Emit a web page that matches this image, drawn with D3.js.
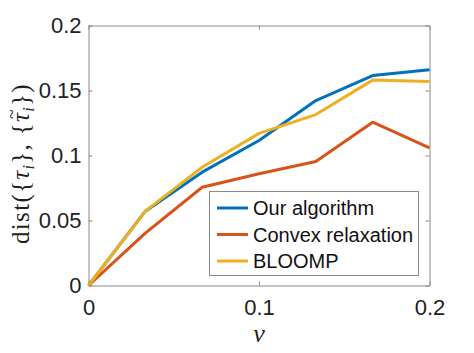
<!DOCTYPE html>
<html lang="en">
  <head>
    <meta charset="UTF-8" />
    <title>dist vs nu</title>
    <style>
      body { margin: 0; background: #fff; }
    </style>
  </head>
  <body>
    <div class="chart"></div>
    <script src="https://d3js.org/d3.v7.min.js"></script>
    <script>
      // data =====================================================
      const nu = [0, 1 / 30, 2 / 30, 3 / 30, 4 / 30, 5 / 30, 6 / 30];
      const ourAlgorithm = [0, 0.0572, 0.0872, 0.1115, 0.1423, 0.1615, 0.166];
      const convexRelaxation = [0, 0.0403, 0.0756, 0.0859, 0.0954, 0.1256, 0.1059];
      const bloomp = [0, 0.0572, 0.091, 0.117, 0.1315, 0.158, 0.157];
      const seriesNames = ["Our algorithm", "Convex relaxation", "BLOOMP"];
      const xTicks = [0, 0.1, 0.2];
      const yTicks = [0, 0.05, 0.1, 0.15, 0.2];

      const colors = ["#0072BD", "#D95319", "#EDB120"];
      const series = [ourAlgorithm, convexRelaxation, bloomp];

      const W = 474, H = 353;
      const mLeft = 88.5, mRight = 429.5, mTop = 25.5, mBottom = 285.5;

      const svg = d3.select(".chart").append("svg")
        .attr("width", W).attr("height", H);

      const x = d3.scaleLinear().domain([0, 0.2]).range([mLeft, mRight]);
      const y = d3.scaleLinear().domain([0, 0.2]).range([mBottom, mTop]);

      const axisColor = "#8a8a8a";
      const tickFont = "'Liberation Sans', Arial, sans-serif";
      const fmt = d => String(+d.toFixed(2));

      // axes (inside ticks, box on) ==============================
      const gx = svg.append("g").attr("transform", `translate(0,${mBottom})`)
        .call(d3.axisBottom(x).tickValues(xTicks).tickSizeInner(-4).tickSizeOuter(0).tickPadding(14).tickFormat(fmt));
      const gy = svg.append("g").attr("transform", `translate(${mLeft},0)`)
        .call(d3.axisLeft(y).tickValues(yTicks).tickSizeInner(-4).tickSizeOuter(0).tickPadding(7).tickFormat(fmt));
      const gxTop = svg.append("g").attr("transform", `translate(0,${mTop})`)
        .call(d3.axisTop(x).tickValues(xTicks).tickSizeInner(-4).tickSizeOuter(0).tickFormat(""));
      const gyRight = svg.append("g").attr("transform", `translate(${mRight},0)`)
        .call(d3.axisRight(y).tickValues(yTicks).tickSizeInner(-4).tickSizeOuter(0).tickFormat(""));

      [gx, gy, gxTop, gyRight].forEach(g => {
        g.selectAll("path,line").attr("stroke", axisColor).attr("stroke-width", 1);
        g.selectAll("text").attr("fill", "#222").style("font-family", tickFont).style("font-size", "22px");
      });

      // lines ====================================================
      const line = d3.line().x((d, i) => x(nu[i])).y(d => y(d));
      series.forEach((s, k) => {
        svg.append("path")
          .datum(s)
          .attr("d", line)
          .attr("fill", "none")
          .attr("stroke", colors[k])
          .attr("stroke-width", 3)
          .attr("stroke-linejoin", "round");
      });

      // legend ===================================================
      const legend = svg.append("g");
      legend.append("rect")
        .attr("x", 209.5).attr("y", 191.5).attr("width", 209).attr("height", 84)
        .attr("fill", "#fff").attr("stroke", axisColor).attr("stroke-width", 1);
      seriesNames.forEach((name, k) => {
        const cy = 208 + k * 26.5;
        legend.append("line")
          .attr("x1", 217).attr("x2", 248).attr("y1", cy).attr("y2", cy)
          .attr("stroke", colors[k]).attr("stroke-width", 3);
        legend.append("text")
          .attr("x", 253).attr("y", cy + 7)
          .style("font-family", tickFont).style("font-size", "20px")
          .attr("fill", "#111")
          .text(name);
      });

      // axis labels ==============================================
      const serif = "'Liberation Serif', 'DejaVu Serif', serif";
      svg.append("text")
        .attr("x", x(0.1)).attr("y", 342)
        .attr("text-anchor", "middle")
        .style("font-family", serif).style("font-style", "italic").style("font-size", "26px")
        .attr("fill", "#222")
        .text("ν");

      const labTransform = `translate(29,${(mTop + mBottom) / 2 + 8}) rotate(-90)`;
      const ylab = svg.append("text")
        .attr("transform", labTransform)
        .attr("text-anchor", "middle")
        .style("font-family", serif).style("font-size", "25px")
        .style("letter-spacing", "1.3px")
        .attr("fill", "#222");
      ylab.append("tspan").text("dist({");
      ylab.append("tspan").style("font-style", "italic").text("τ");
      ylab.append("tspan").style("font-style", "italic").style("font-size", "16px").attr("dy", 5).text("i");
      ylab.append("tspan").attr("dy", -5).text("}, {");
      ylab.append("tspan").style("font-style", "italic").text("τ");
      ylab.append("tspan").style("font-style", "italic").style("font-size", "16px").attr("dy", 5).text("i");
      ylab.append("tspan").attr("dy", -5).text("})");

      // wide tilde over the second tau_i
      const node = ylab.node();
      const idx = "dist({τi}, {".length;
      const p0 = node.getStartPositionOfChar(idx);
      const p1 = node.getEndPositionOfChar(idx + 1);
      svg.append("text")
        .attr("transform", labTransform)
        .attr("x", (p0.x + p1.x) / 2).attr("y", p0.y - 11)
        .attr("text-anchor", "middle")
        .style("font-family", serif).style("font-size", "18px")
        .attr("fill", "#222")
        .text("~");
    </script>
  </body>
</html>
